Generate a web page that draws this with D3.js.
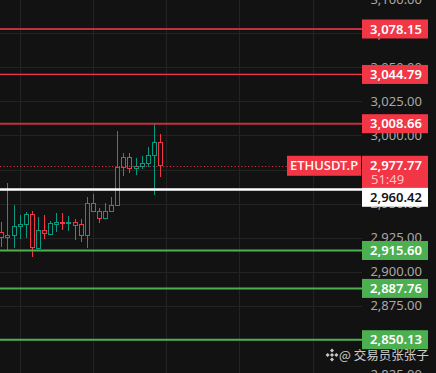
<!DOCTYPE html>
<html lang="en">
<head>
<meta charset="utf-8">
<style type="text/css">
    body { margin: 0; background: #121212; }
    svg { display: block; }
    .tick-label { fill: #a8a8a8; font-family: "Noto Sans", sans-serif; font-size: 13px; }
    .box-label { font-family: "Noto Sans", sans-serif; font-size: 13px; font-weight: 600; }
</style>
</head>
<body>
<svg width="436" height="373"></svg>

<script src="https://d3js.org/d3.v7.min.js"></script>
<script type="text/javascript">
    // candles, oldest first (hourly-ish ETHUSDT.P)
    var opens  = [2928.9, 2925.3, 2926.5, 2933.0, 2934.8, 2942.2, 2917.6, 2930.4, 2927.9, 2935.3, 2936.3, 2936.0, 2936.5, 2934.8,
                  2926.5, 2950.2, 2944.6, 2939.7, 2944.1, 2948.5, 2976.6, 2984.0, 2975.9, 2977.4, 2979.6, 2985.2, 2995.0];
    var highs  = [2936.7, 2965.1, 2949.0, 2941.6, 2944.1, 2944.6, 2940.2, 2941.6, 2937.2, 2943.1, 2943.1, 2940.7, 2938.7, 2938.7,
                  2954.8, 2957.0, 2947.0, 2950.5, 2954.8, 3003.3, 2987.4, 2987.2, 2983.5, 2985.0, 2991.3, 3008.2, 3001.1];
    var lows   = [2918.4, 2915.4, 2917.6, 2923.8, 2925.0, 2911.0, 2916.7, 2924.0, 2927.5, 2929.4, 2930.6, 2929.9, 2923.3, 2921.8,
                  2917.6, 2944.1, 2935.8, 2938.7, 2944.1, 2948.3, 2970.5, 2972.7, 2971.0, 2975.4, 2977.1, 2956.5, 2969.3];
    var closes = [2925.3, 2926.8, 2933.3, 2934.8, 2942.2, 2917.9, 2930.6, 2927.9, 2935.8, 2936.5, 2935.8, 2936.5, 2934.5, 2926.5,
                  2950.2, 2944.1, 2939.7, 2944.6, 2948.8, 2976.6, 2984.0, 2975.9, 2977.4, 2979.6, 2985.7, 2995.0, 2977.77];

    // horizontal levels
    var resistLevels = [3078.15, 3044.79, 3008.66];
    var supportLevels = [2915.60, 2887.76, 2850.13];
    var markLevel = 2960.42;
    var lastPrice = 2977.77;
    var symbol = "ETHUSDT.P";
    var countdown = "51:49";

    var yTicks = [3100, 3075, 3050, 3025, 3000, 2975, 2950, 2925, 2900, 2875, 2850, 2825];
    var xGridIdx = [3, 15, 27, 39, 51];

    var svg = d3.select("svg"),
        width = +svg.attr("width"),
        height = +svg.attr("height"),
        plotW = 362;

    var bg = "#121212", up = "#089981", down = "#f23645", green = "#4caf50";

    var y = d3.scaleLinear().domain([2850.13, 3078.15]).range([339.7, 29]);
    var x = d3.scaleLinear().domain([0, 26]).range([1.3, 160]);
    var fmt = d3.format(",.2f");

    svg.append("rect").attr("width", width).attr("height", height).attr("fill", bg);

    // grid
    var grid = svg.append("g").attr("stroke", "#232323").attr("stroke-width", 1)
        .attr("shape-rendering", "crispEdges");
    grid.selectAll(".hg").data(yTicks).enter().append("line")
        .attr("x1", 0).attr("x2", plotW)
        .attr("y1", function (d) { return Math.round(y(d)) + 0.5; })
        .attr("y2", function (d) { return Math.round(y(d)) + 0.5; });
    grid.selectAll(".vg").data(xGridIdx).enter().append("line")
        .attr("y1", 0).attr("y2", height)
        .attr("x1", function (d) { return Math.round(x(d)) + 0.5; })
        .attr("x2", function (d) { return Math.round(x(d)) + 0.5; });

    // right axis tick labels
    svg.append("g").selectAll("text").data(yTicks).enter().append("text")
        .attr("class", "tick-label")
        .attr("x", 422).attr("y", function (d) { return y(d); })
        .attr("dy", "0.36em").attr("text-anchor", "end")
        .text(function (d) { return fmt(d); });

    // candles (hollow)
    var candles = d3.range(opens.length).map(function (i) {
        return { i: i, o: opens[i], h: highs[i], l: lows[i], c: closes[i] };
    });
    var cg = svg.append("g").attr("shape-rendering", "crispEdges")
        .selectAll("g").data(candles).enter().append("g");
    cg.append("line")
        .attr("x1", function (d) { return Math.round(x(d.i)) + 0.5; })
        .attr("x2", function (d) { return Math.round(x(d.i)) + 0.5; })
        .attr("y1", function (d) { return Math.round(y(d.h)); })
        .attr("y2", function (d) { return Math.round(y(d.l)); })
        .attr("stroke", function (d) { return d.c >= d.o ? up : down; })
        .attr("stroke-width", 1);
    cg.append("rect")
        .attr("x", function (d) { return Math.round(x(d.i)) - 1.5; })
        .attr("width", 4)
        .attr("y", function (d) { return Math.round(y(Math.max(d.o, d.c))) + 0.5; })
        .attr("height", function (d) { return Math.max(1, Math.round(Math.abs(y(d.o) - y(d.c)))); })
        .attr("fill", bg)
        .attr("stroke", function (d) { return d.c >= d.o ? up : down; })
        .attr("stroke-width", 1);

    // level lines
    var resistStyle = [{ c: "#c0303e", w: 2 }, { c: "#f23645", w: 1.2 }, { c: "#c0303e", w: 2 }];
    svg.append("g").selectAll("line").data(resistLevels).enter().append("line")
        .attr("x1", 0).attr("x2", plotW)
        .attr("y1", function (d) { return y(d); }).attr("y2", function (d) { return y(d); })
        .attr("stroke", function (d, i) { return resistStyle[i].c; })
        .attr("stroke-width", function (d, i) { return resistStyle[i].w; });
    svg.append("g").selectAll("line").data(supportLevels).enter().append("line")
        .attr("x1", 0).attr("x2", plotW)
        .attr("y1", function (d) { return y(d); }).attr("y2", function (d) { return y(d); })
        .attr("stroke", green).attr("stroke-width", 2);
    svg.append("line")
        .attr("x1", 0).attr("x2", plotW)
        .attr("y1", y(markLevel)).attr("y2", y(markLevel))
        .attr("stroke", "#ffffff").attr("stroke-width", 2.5);

    // last price dotted line
    svg.append("line")
        .attr("x1", 0).attr("x2", 287)
        .attr("y1", Math.round(y(lastPrice)) + 0.5).attr("y2", Math.round(y(lastPrice)) + 0.5)
        .attr("stroke", down).attr("stroke-width", 1)
        .attr("stroke-dasharray", "1,2.4");

    // price boxes on the axis
    function priceBox(v, fill, textFill, top) {
        var g = svg.append("g");
        var yc = top === undefined ? y(v) : top + 9.5;
        g.append("rect").attr("x", 362).attr("y", yc - 9.5).attr("width", 66).attr("height", 19).attr("fill", fill);
        g.append("text").attr("class", "box-label").attr("x", 396).attr("y", yc).attr("dy", "0.36em")
            .attr("text-anchor", "middle").attr("fill", textFill).text(fmt(v));
    }
    resistLevels.forEach(function (v) { priceBox(v, down, "#ffffff"); });
    supportLevels.forEach(function (v) { priceBox(v, green, "#ffffff"); });

    // last price box with countdown
    var ly = y(lastPrice);
    svg.append("rect").attr("x", 362).attr("y", ly - 10).attr("width", 66).attr("height", 32).attr("fill", down);
    svg.append("text").attr("class", "box-label").attr("x", 396).attr("y", ly).attr("dy", "0.36em")
        .attr("text-anchor", "middle").attr("fill", "#ffffff").text(fmt(lastPrice));
    svg.append("text").attr("class", "box-label").attr("x", 371).attr("y", ly + 14).attr("dy", "0.36em")
        .attr("fill", "#ffc2c7").style("font-weight", 400).text(countdown);

    // mark price box pushed under the last price box
    priceBox(markLevel, "#ffffff", "#131313", ly + 22);

    // symbol tag
    svg.append("rect").attr("x", 287).attr("y", ly - 10).attr("width", 74).attr("height", 20).attr("fill", down);
    svg.append("text").attr("class", "box-label").attr("x", 324).attr("y", ly).attr("dy", "0.36em")
        .attr("text-anchor", "middle").attr("fill", "#ffffff").style("font-weight", 500).text(symbol);

    // watermark
    var wm = svg.append("g").attr("fill", "#e0e0e0").attr("opacity", 0.9);
    var icx = 332, icy = 355;
    [[0, -4.4], [0, 4.4], [-4.4, 0], [4.4, 0], [0, 0]].forEach(function (p) {
        var s = 2;
        wm.append("path")
            .attr("d", "M" + (icx + p[0]) + "," + (icy + p[1] - s) + "l" + s + "," + s + "l" + (-s) + "," + s + "l" + (-s) + "," + (-s) + "z");
    });
    wm.append("text").attr("x", 339).attr("y", icy).attr("dy", "0.36em")
        .style("font-family", "'Noto Sans CJK SC', 'Noto Sans', sans-serif").style("font-size", "12.5px")
        .text("@ 交易员张张子");
</script>
</body>
</html>
